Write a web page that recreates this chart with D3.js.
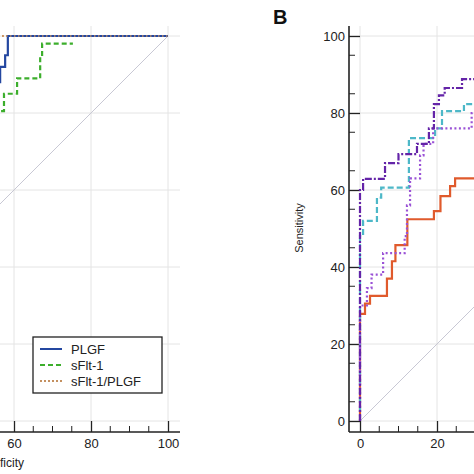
<!DOCTYPE html>
<html><head><meta charset="utf-8">
<script src="https://cdn.jsdelivr.net/npm/d3@7"></script>
<style>body{margin:0;background:#fff}svg{font-family:"Liberation Sans",Arial,sans-serif}</style>
</head><body>
<div class="chart"></div>
<script>
// ROC curves, points are [100-specificity, sensitivity] where the step rises
var plgfA = [[0,0],[0,40],[20,60],[40,80],[50,88],[56.4,92],[57.7,95],[58.4,100],[100,100]];
var sflt1A = [[0,0],[0,35],[20,55],[40,70],[50,76],[56,80.5],[57.4,85],[60.8,89],[66.8,94.5],[67.3,98],[75.3,98]];
var ratioA = [[0,0],[0,60],[30,90],[50,100],[100,100]];

var seriesB1 = [[0,0],[0,27.8],[1.3,30.5],[2.6,32.5],[7,37],[8.3,41.5],[9.2,45.7],[12.3,52.4],[19.2,54.5],[20.9,58.4],[23.4,61],[24.7,63],[32,63]];
var seriesB2 = [[0,0],[0,48],[0.8,52],[4.4,58],[5.5,60.6],[12.7,73.5],[19.5,76],[21.3,80.5],[27,82.3],[32,82.3]];
var seriesB3 = [[0,0],[0,30],[1.8,34.5],[3,38],[6,43.6],[11.6,48],[12.2,56],[13,63],[15.6,69],[16.5,72],[19,76],[29,80],[32,80]];
var seriesB4 = [[0,0],[0,60],[0.8,62.9],[6.5,67],[10,69.3],[14.8,72],[17.9,76],[19.2,82.3],[20.5,84.6],[22,86.5],[26.5,88.8],[32,88.8]];

var ticks = [0,20,40,60,80,100];
var legendA = ["PLGF","sFlt-1","sFlt-1/PLGF"];

var W = 474, H = 474;
var svg = d3.select("div.chart").append("svg").attr("width",W).attr("height",H);

function panel(x0, x1, axisX, series){
    var x = d3.scaleLinear().domain([0,100]).range([x0,x1]);
    var y = d3.scaleLinear().domain([0,100]).range([421,36]);
    var g = svg.append("g");
    // grid
    g.selectAll(".gx").data(ticks).enter().append("line")
        .attr("x1",d=>x(d)).attr("x2",d=>x(d)).attr("y1",26).attr("y2",421)
        .attr("stroke","#e4e4e4");
    g.selectAll(".gy").data(ticks).enter().append("line")
        .attr("y1",d=>y(d)).attr("y2",d=>y(d)).attr("x1",axisX).attr("x2",x1+12)
        .attr("stroke","#e4e4e4");
    // diagonal
    g.append("line").attr("x1",x(0)).attr("y1",y(0)).attr("x2",x(100)).attr("y2",y(100))
        .attr("stroke","#c8c8d4").attr("stroke-width",1);
    // axes
    var yAxis = d3.axisLeft(y).tickValues(ticks).tickSize(-11).tickPadding(4);
    var ya = g.append("g").attr("transform","translate("+axisX+",0)").call(yAxis);
    ya.selectAll(".minor").data(d3.range(5,100,10)).enter().append("line").attr("class","minor")
        .attr("x1",0).attr("x2",6).attr("y1",d=>y(d)).attr("y2",d=>y(d)).attr("stroke","#222");
    var xAxis = d3.axisBottom(x).tickValues(ticks).tickSize(-11).tickPadding(7);
    var xa = g.append("g").attr("transform","translate(0,432)").call(xAxis);
    xa.selectAll(".minor").data(d3.range(5,100,5).filter(d=>d%20)).enter().append("line").attr("class","minor")
        .attr("y1",0).attr("y2",-6).attr("x1",d=>x(d)).attr("x2",d=>x(d)).attr("stroke","#222");
    [ya,xa].forEach(function(a){
        a.select(".domain").attr("stroke","#222").attr("stroke-width",1.6);
        a.selectAll(".tick line").attr("stroke","#222").attr("stroke-width",1.3);
        a.selectAll("text").attr("font-size",13).attr("fill","#222").style("font-family","Liberation Sans, Arial");
    });
    // labels that fall outside the picture are dropped
    ya.selectAll(".tick text").filter(function(){ return axisX < 0; }).remove();
    xa.selectAll(".tick text").filter(function(d){ return x(d) < 0; }).remove();
    ya.select(".domain").attr("d","M0,"+(y(100)-10)+"V432");
    xa.select(".domain").attr("d","M"+axisX+",0H"+(x1+12));
    // curves
    var line = d3.line().x(d=>x(d[0])).y(d=>y(d[1])).curve(d3.curveStepAfter);
    series.forEach(function(s){
        g.append("path").datum(s.data).attr("d",line).attr("fill","none")
            .attr("stroke",s.color).attr("stroke-width",2.2).attr("stroke-dasharray",s.dash);
    });
    return {g:g,x:x,y:y};
}

var A = panel(-217,168,-228,[
    {data:ratioA,color:"#d9a070",dash:"2,2"},
    {data:sflt1A,color:"#3cae2c",dash:"5,3"},
    {data:plgfA,color:"#2447a0",dash:null}
]);
// overlay dotted ratio on top where curves coincide
A.g.append("path").datum(ratioA).attr("d",d3.line().x(d=>A.x(d[0])).y(d=>A.y(d[1])).curve(d3.curveStepAfter))
    .attr("fill","none").attr("stroke","#c49060").attr("stroke-width",1.6).attr("stroke-dasharray","1.5,2.5");

var B = panel(360,745,349,[
    {data:seriesB1,color:"#e05a2c",dash:null},
    {data:seriesB2,color:"#4db8c8",dash:"6,3"},
    {data:seriesB3,color:"#9a52d6",dash:"2,2.5"},
    {data:seriesB4,color:"#6424a8",dash:"7,2,2,2"}
]);

// legend panel A
var lg = svg.append("g").attr("transform","translate(33,337)");
lg.append("rect").attr("width",129).attr("height",56).attr("fill","#fff").attr("stroke","#222").attr("stroke-width",1.3);
var legStyle = [{c:"#2447a0",d:null},{c:"#3cae2c",d:"5,3"},{c:"#c49060",d:"2,2"}];
legendA.forEach(function(t,i){
    lg.append("line").attr("x1",7).attr("x2",29).attr("y1",12+i*16).attr("y2",12+i*16)
        .attr("stroke",legStyle[i].c).attr("stroke-width",2).attr("stroke-dasharray",legStyle[i].d);
    lg.append("text").attr("x",38).attr("y",17+i*16).attr("font-size",13).attr("fill","#222").text(t);
});

// titles
svg.append("text").attr("x",-15).attr("y",467).attr("text-anchor","middle").attr("font-size",12).attr("fill","#222").text("100-Specificity");
svg.append("text").attr("transform","translate(303,228) rotate(-90)").attr("text-anchor","middle").attr("font-size",11).attr("fill","#222").text("Sensitivity");
svg.append("text").attr("x",273).attr("y",24).attr("font-size",20).attr("font-weight","bold").attr("fill","#111").text("B");
</script>
</body></html>
